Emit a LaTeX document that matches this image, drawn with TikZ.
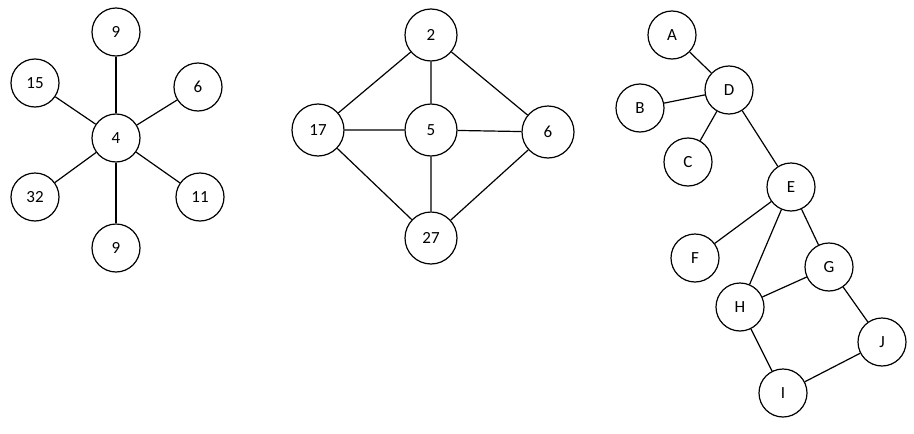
\documentclass[tikz,border=0pt]{standalone}
\usepackage{fontspec}
\setmainfont{Carlito}
\begin{document}
\begin{tikzpicture}[x=1pt,y=-1pt,
  vert/.style={circle,draw,line width=1.2pt,minimum size=48pt,inner sep=0pt,font=\fontsize{17}{17}\selectfont},
  edge/.style={line width=1.2pt}]
\useasboundingbox (0,0) rectangle (914,434);
\node[vert] (c4) at (116,138) {4};
\node[vert] (t9) at (116,32) {9};
\node[vert] (n15) at (35,83) {15};
\node[vert] (n6a) at (198,87) {6};
\node[vert] (n32) at (35,197) {32};
\node[vert] (n11) at (200,197) {11};
\node[vert] (b9) at (116,248) {9};
\foreach \n in {t9,n15,n6a,n32,n11,b9} \draw[edge] (c4) -- (\n);
\node[vert,minimum size=52pt] (m2) at (431,35) {2};
\node[vert,minimum size=52pt] (m17) at (318,130) {17};
\node[vert,minimum size=52pt] (m5) at (431,130) {5};
\node[vert,minimum size=52pt] (m6) at (548,132) {6};
\node[vert,minimum size=52pt] (m27) at (431,238) {27};
\draw[edge] (m2)--(m17) (m2)--(m5) (m2)--(m6) (m17)--(m5) (m5)--(m6) (m17)--(m27) (m5)--(m27) (m6)--(m27);
\node[vert] (A) at (672,35) {A};
\node[vert] (D) at (729,90) {D};
\node[vert] (B) at (640,108) {B};
\node[vert] (C) at (688,162) {C};
\node[vert] (E) at (791,187) {E};
\node[vert] (F) at (695,258) {F};
\node[vert] (G) at (829,267) {G};
\node[vert] (H) at (740,307) {H};
\node[vert] (J) at (882,342) {J};
\node[vert] (I) at (783,393) {I};
\draw[edge] (A)--(D) (B)--(D) (C)--(D) (D)--(E) (E)--(F) (E)--(H) (E)--(G) (G)--(H) (G)--(J) (H)--(I) (J)--(I);
\end{tikzpicture}
\end{document}
